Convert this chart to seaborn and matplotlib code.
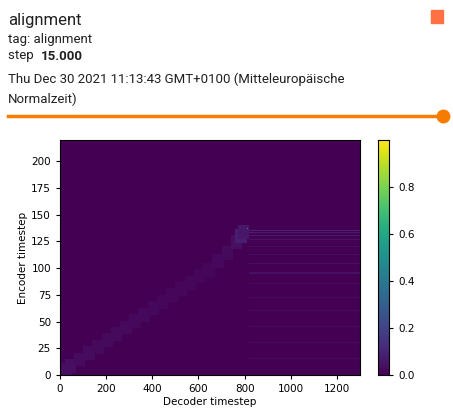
import numpy as np
import matplotlib
matplotlib.use("Agg")
import matplotlib.pyplot as plt
import seaborn as sns

# =====================
# DATA
# =====================
n_enc, n_dec = 220, 1300
path_dec = [0, 20, 40, 60, 100, 140, 180, 220, 260, 300, 340, 380, 420, 460, 500,
            540, 580, 620, 660, 700, 740, 780, 800, 810]
path_enc = [0, 4, 8, 12, 18, 24, 30, 36, 42, 48, 54, 60, 66, 72, 78,
            84, 90, 96, 102, 110, 118, 128, 134, 137]
path_val = [0.5, 0.35, 0.3, 0.3, 0.25, 0.25, 0.22, 0.2, 0.2, 0.2, 0.18, 0.18, 0.18,
            0.16, 0.16, 0.16, 0.15, 0.15, 0.15, 0.18, 0.2, 0.3, 0.7, 0.5]
streak_rows = [135, 133, 130, 126, 120, 112, 104, 95, 85, 72, 60, 45, 30, 15]
streak_vals = [0.1, 0.08, 0.06, 0.05, 0.04, 0.04, 0.04, 0.04, 0.03, 0.03, 0.03, 0.03, 0.03, 0.03]
x_ticks = [0, 200, 400, 600, 800, 1000, 1200]
y_ticks = [0, 25, 50, 75, 100, 125, 150, 175, 200]

mat = np.zeros((n_enc, n_dec))
for d, e, v in zip(path_dec, path_enc, path_val):
    mat[max(e - 10, 0):e + 3, max(d - 40, 0):d + 10] = v * 0.12
    mat[e, d:d + 4] = v
for r, v in zip(streak_rows, streak_vals):
    mat[r, 820:1300] = v

# =====================
# FIGURE
# =====================
fig = plt.figure(figsize=(4.53, 4.15), dpi=100)
font = ["Roboto", "DejaVu Sans"]
fig.text(8 / 453, 1 - 20 / 415, "alignment", fontsize=12, family=font, va="center", color="#212121")
fig.text(8 / 453, 1 - 39 / 415, "tag: alignment", fontsize=9.5, family=font, va="center", color="#212121")
fig.text(8 / 453, 1 - 56 / 415, "step ", fontsize=9.5, family=font, va="center", color="#212121")
fig.text(41 / 453, 1 - 56 / 415, "15.000", fontsize=9.5, family=font, va="center", weight="bold", color="#212121")
fig.text(8 / 453, 1 - 79 / 415, "Thu Dec 30 2021 11:13:43 GMT+0100 (Mitteleuropäische", fontsize=9.5,
         family=font, va="center", color="#212121")
fig.text(8 / 453, 1 - 99 / 415, "Normalzeit)", fontsize=9.5, family=font, va="center", color="#212121")
fig.add_artist(plt.Line2D([8 / 453, 443 / 453], [1 - 116 / 415] * 2, color="#f57c00", lw=2.5))
fig.add_artist(plt.Line2D([443 / 453], [1 - 116 / 415], marker="o", ms=9, color="#f57c00"))
fig.add_artist(plt.Rectangle((431 / 453, 1 - 23 / 415), 12 / 453, 13 / 415, color="#ff7043"))

ax = fig.add_axes([60 / 453, 1 - 375 / 415, 300 / 453, 235 / 415])
cax = fig.add_axes([378 / 453, 1 - 375 / 415, 11 / 453, 235 / 415])
sns.heatmap(mat, cmap="viridis", vmin=0, vmax=1.0, ax=ax, cbar_ax=cax,
            xticklabels=False, yticklabels=False, rasterized=True)
ax.set_ylim(0, n_enc)
ax.set_xlim(0, n_dec)
ax.set_xticks(x_ticks)
ax.set_xticklabels([str(t) for t in x_ticks], fontsize=7.5)
ax.set_yticks(y_ticks)
ax.set_yticklabels([str(t) for t in y_ticks], fontsize=7.5, rotation=0)
ax.tick_params(length=3)
ax.set_xlabel("Decoder timestep", fontsize=7.5, labelpad=2)
ax.set_ylabel("Encoder timestep", fontsize=7.5, labelpad=2)
for s in ax.spines.values():
    s.set_visible(True)
cax.set_yticks([0, 0.2, 0.4, 0.6, 0.8])
cax.tick_params(labelsize=7.5, length=3)
for s in cax.spines.values():
    s.set_visible(True)

fig.savefig("out.png", dpi=100)
